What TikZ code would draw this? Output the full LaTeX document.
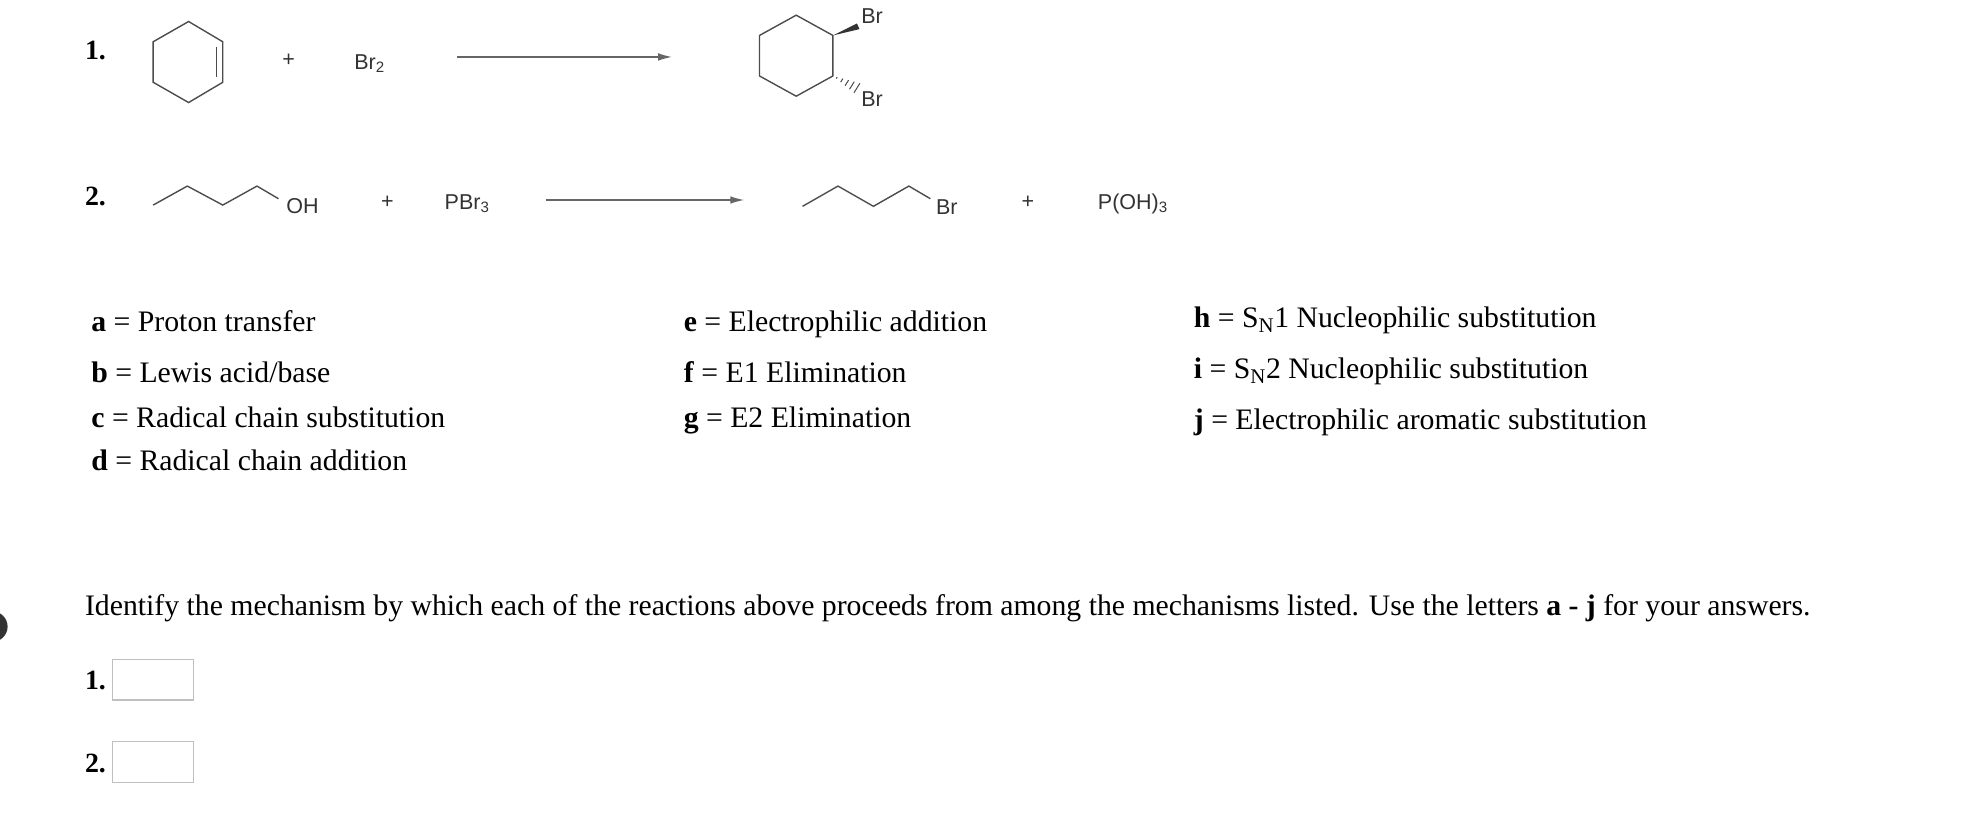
\documentclass[tikz,border=0pt]{standalone}
\usepackage{fontspec}
\usetikzlibrary{arrows.meta,calc}
\setmainfont{Liberation Serif}
\newfontfamily\chemfont{Liberation Sans}
\begin{document}
\begin{tikzpicture}[x=1pt,y=-1pt,
  chem/.style={font=\chemfont\fontsize{17}{17}\selectfont,text=black!80,inner sep=0pt},
  leg/.style={font=\fontsize{23.5}{23.5}\selectfont,anchor=base west,inner sep=0pt},
  num/.style={leg,font=\bfseries\fontsize{22}{22}\selectfont},
  bond/.style={line width=1.1pt,black!70},
  rarrow/.style={line width=1.2pt,black!60,-{Latex[length=11pt,width=6pt]}},
  ansbox/.style={draw=black!25,line width=0.8pt,minimum width=64pt,minimum height=32pt,inner sep=0pt}]
\useasboundingbox (0,0) rectangle (1550,645);
\fill[black!80] (-6,495) circle (12);
% row 1
\node[num] (n1) at (67,47) {1.};
\draw[bond] (149,17) -- (176,33) -- (176,65) -- (149,81) -- (121,65) -- (121,33) -- cycle;
\draw[bond] (171,37) -- (171,61);
\node[chem] (p1) at (228,48) {+};
\node[chem] (br2) at (292,50) {Br\textsubscript{2}};
\coordinate (a1s) at (361,45); \coordinate (a1e) at (531,45);
\draw[rarrow] (a1s) -- (a1e);
\draw[bond] (629,12) -- (658,28) -- (658,60) -- (629,76) -- (600,60) -- (600,28) -- cycle;
\node[chem] (brt) at (689,13) {Br};
\node[chem] (brb) at (689,78) {Br};
\fill[black!80] (658,28) -- (677,18.5) -- (679,23) -- cycle;
\foreach \t in {0.15,0.35,0.55,0.75,0.95}{
  \draw[black!70,line width=0.8pt] ($(658,60)!\t!(678,70)+(-{\t*2.5},{\t*4})$) -- ($(658,60)!\t!(678,70)+({\t*2.5},{-\t*4})$);}
% row 2
\node[num] (n2) at (67,162) {2.};
\draw[bond] (121,162) -- (148,147) -- (176,162) -- (203,147) -- (220,157);
\node[chem] (oh) at (239,163) {OH};
\node[chem] (p2) at (306,160) {+};
\node[chem] (pbr3) at (369,161) {PBr\textsubscript{3}};
\coordinate (a2s) at (431,158); \coordinate (a2e) at (588,158);
\draw[rarrow] (a2s) -- (a2e);
\draw[bond] (634,163) -- (662,147) -- (690,163) -- (718,147) -- (735,157);
\node[chem] (br) at (748,164) {Br};
\node[chem] (p3) at (812,160) {+};
\node[chem] (poh) at (895,161) {P(OH)\textsubscript{3}};
% legend
\node[leg] (la) at (72,262) {\textbf{a} = Proton transfer};
\node[leg] (lb) at (72,302) {\textbf{b} = Lewis acid/base};
\node[leg] (lc) at (72,338) {\textbf{c} = Radical chain substitution};
\node[leg] (ld) at (72,372) {\textbf{d} = Radical chain addition};
\node[leg] (le) at (540,262) {\textbf{e} = Electrophilic addition};
\node[leg] (lf) at (540,302) {\textbf{f} = E1 Elimination};
\node[leg] (lg) at (540,338) {\textbf{g} = E2 Elimination};
\node[leg] (lh) at (943,259) {\textbf{h} = S\textsubscript{N}1 Nucleophilic substitution};
\node[leg] (li) at (943,299) {\textbf{i} = S\textsubscript{N}2 Nucleophilic substitution};
\node[leg] (lj) at (943,339) {\textbf{j} = Electrophilic aromatic substitution};
\node[leg] (q) at (67,486) {Identify the mechanism by which each of the reactions above proceeds from among the mechanisms listed. Use the letters \textbf{a - j} for your answers.};
\node[num] (q1) at (67,545) {1.};
\node[ansbox] (b1) at (121,537) {};
\node[num] (q2) at (67,610) {2.};
\node[ansbox] (b2) at (121,602) {};
\end{tikzpicture}
\end{document}
